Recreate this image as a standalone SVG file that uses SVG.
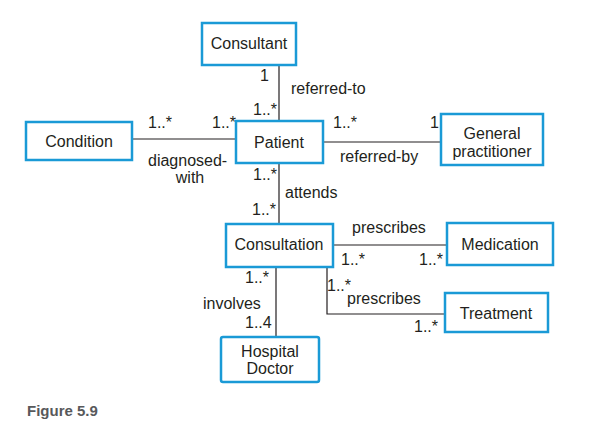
<svg xmlns="http://www.w3.org/2000/svg" width="594" height="425" viewBox="0 0 594 425">
<style>
.box{fill:#fff;stroke:#1a9ad6;stroke-width:2.5}
.lbl{font-family:"Liberation Sans","DejaVu Sans",sans-serif;font-size:16px;fill:#231f20}
.nm{text-anchor:middle}
.cn{stroke:#231f20;stroke-width:1.2;fill:none}
.fig{font-family:"Liberation Sans",sans-serif;font-size:15px;font-weight:bold;fill:#58595b}
</style>
<rect width="594" height="425" fill="#fff"/>
<g id="connectors">
<line class="cn" x1="279" y1="65" x2="279" y2="120"/>
<line class="cn" x1="132" y1="139" x2="236" y2="139"/>
<line class="cn" x1="323" y1="142" x2="441" y2="142"/>
<line class="cn" x1="279" y1="163" x2="279" y2="224"/>
<line class="cn" x1="333" y1="245" x2="447" y2="245"/>
<polyline class="cn" points="327,267 327,314 445,314"/>
<line class="cn" x1="276" y1="267" x2="276" y2="337"/>
<g class="lbl">
<text x="260" y="81">1</text>
<text x="291" y="94">referred-to</text>
<text x="253" y="115">1..*</text>
<text x="148" y="128">1..*</text>
<text x="212" y="128">1..*</text>
<text x="148" y="166">diagnosed-</text>
<text x="190" y="183" class="nm">with</text>
<text x="333" y="128">1..*</text>
<text x="430" y="128">1</text>
<text x="340" y="162">referred-by</text>
<text x="253" y="180">1..*</text>
<text x="285" y="198">attends</text>
<text x="252" y="215">1..*</text>
<text x="352" y="233">prescribes</text>
<text x="341" y="265">1..*</text>
<text x="419" y="265">1..*</text>
<text x="245" y="283">1..*</text>
<text x="327" y="291">1..*</text>
<text x="347" y="304">prescribes</text>
<text x="414" y="332">1..*</text>
<text x="203" y="309">involves</text>
<text x="245" y="328">1..4</text>
</g>
</g>
<g id="consultant"><rect class="box" x="202" y="23" width="94" height="42"/><text class="lbl nm" x="249" y="49">Consultant</text></g>
<g id="patient"><rect class="box" x="236" y="121" width="87" height="42"/><text class="lbl nm" x="279" y="148">Patient</text></g>
<g id="condition"><rect class="box" x="26" y="122" width="106" height="38"/><text class="lbl nm" x="79" y="147">Condition</text></g>
<g id="gp"><rect class="box" x="441" y="114" width="102" height="51"/><text class="lbl nm" x="492" y="139">General</text><text class="lbl nm" x="492" y="157">practitioner</text></g>
<g id="consultation"><rect class="box" x="226" y="224" width="107" height="43"/><text class="lbl nm" x="279" y="250">Consultation</text></g>
<g id="medication"><rect class="box" x="447" y="223" width="106" height="42"/><text class="lbl nm" x="500" y="250">Medication</text></g>
<g id="treatment"><rect class="box" x="445" y="293" width="103" height="39"/><text class="lbl nm" x="496" y="319">Treatment</text></g>
<g id="hospital-doctor"><rect class="box" x="221" y="337" width="98" height="45" rx="2"/><text class="lbl nm" x="270" y="357">Hospital</text><text class="lbl nm" x="270" y="374">Doctor</text></g>
<text class="fig" x="27" y="416">Figure 5.9</text>
</svg>
